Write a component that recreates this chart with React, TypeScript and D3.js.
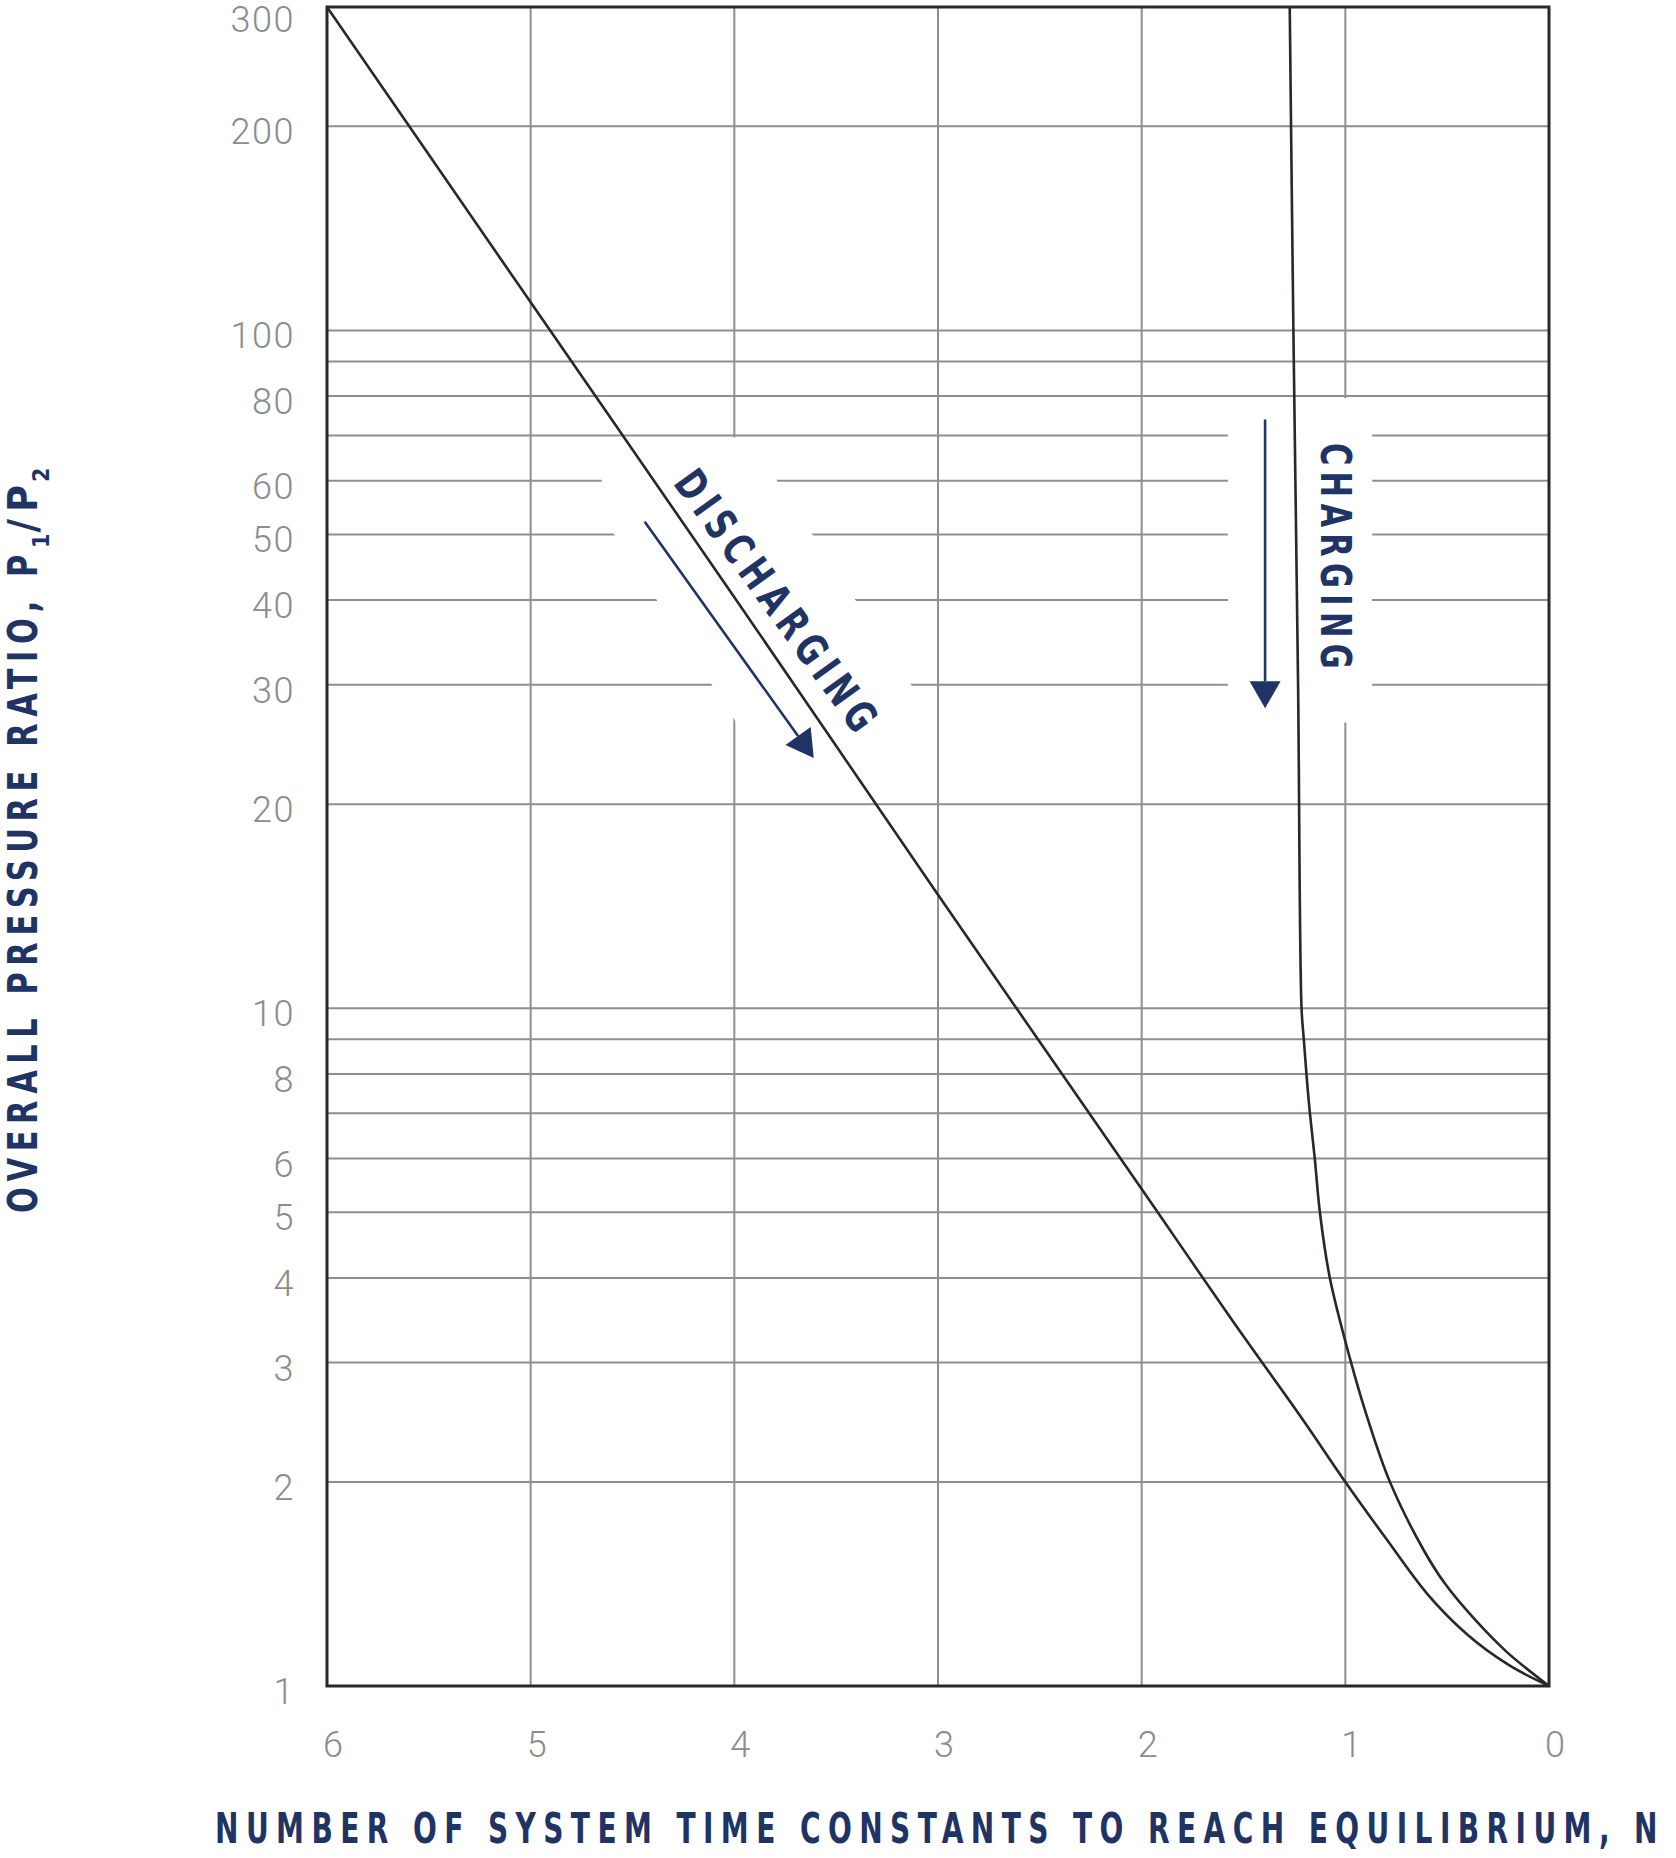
import { useEffect, useRef } from 'react';
import * as d3 from 'd3';

const WIDTH = 1676;
const HEIGHT = 1858;

// X 轴：达到平衡所需的系统时间常数个数（从左 6 到右 0）
const nTicks = [6, 5, 4, 3, 2, 1, 0];
const nGrid = [5, 4, 3, 2, 1];

// Y 轴：总压比 P1/P2（对数刻度）
const pTickLabels = [300, 200, 100, 80, 60, 50, 40, 30, 20, 10, 8, 6, 5, 4, 3, 2, 1];
const pGrid = [200, 100, 90, 80, 70, 60, 50, 40, 30, 20, 10, 9, 8, 7, 6, 5, 4, 3, 2];

// 放气曲线
const dischargingN = [6, 5, 4, 3, 2, 1.5, 1.2, 1, 0.8, 0.6, 0.4, 0.2, 0];
const dischargingP = [300, 110, 40.4, 14.7, 5.41, 3.28, 2.45, 2.0, 1.65, 1.37, 1.19, 1.075, 1];

// 充气曲线
const chargingN = [1.273, 1.255, 1.232, 1.215, 1.204, 1.191, 1.174, 1.15, 1.125, 1.076, 0.977, 0.899, 0.781, 0.617, 0.511, 0.372, 0.208, 0];
const chargingP = [300, 100, 30, 10, 9, 8, 7, 6, 5, 4, 3.04, 2.527, 2, 1.59, 1.416, 1.261, 1.123, 1];

// 标注：箭头起止点 (N, P)
const dischargeArrow: [number, number][] = [[4.44, 52.2], [3.61, 23.4]];
const chargeArrow: [number, number][] = [[1.394, 73.9], [1.394, 27.7]];

// 标注文字锚点
const dischargeLabel = { text: 'DISCHARGING', n: 3.786, p: 39.6 };
const chargeLabel = { text: 'CHARGING', n: 1.046, p: 46 };

// 网格在标注处断开的区域
const dischargeGapN = [4.7, 3.93, 3.01, 3.99, 4.59];
const dischargeGapP = [69.5, 69.5, 26.4, 26.4, 50];
const chargeGapN = [1.577, 0.868, 0.868, 1.577];
const chargeGapP = [79.5, 79.5, 26.4, 26.4];

const NAVY = '#1f3465';
const GRID = '#8d8f91';
const INK = '#25282d';
const TICK = '#8a8c8e';
const BOLD_FONT = "'Liberation Sans Narrow', 'DejaVu Sans Condensed', 'Liberation Sans', sans-serif";
const TICK_FONT = "Roboto, 'Liberation Sans', sans-serif";

export default function App() {
  const svgRef = useRef<SVGSVGElement>(null);

  useEffect(() => {
    if (!svgRef.current) return;
    const svg = d3.select(svgRef.current);
    svg.selectAll('*').remove();

    const plot = { left: 327, right: 1549, top: 7, bottom: 1686 };
    const x = d3.scaleLinear().domain([6, 0]).range([plot.left, plot.right]);
    const y = d3.scaleLog().domain([1, 300]).range([plot.bottom, plot.top]);

    svg.append('rect').attr('width', WIDTH).attr('height', HEIGHT).attr('fill', '#fff');

    // 网格
    const grid = svg.append('g').attr('stroke', GRID).attr('stroke-width', 2);
    grid.selectAll('line.v').data(nGrid).join('line')
      .attr('class', 'v')
      .attr('x1', d => x(d)).attr('x2', d => x(d))
      .attr('y1', plot.top).attr('y2', plot.bottom);
    grid.selectAll('line.h').data(pGrid).join('line')
      .attr('class', 'h')
      .attr('x1', plot.left).attr('x2', plot.right)
      .attr('y1', d => y(d)).attr('y2', d => y(d));

    // 文字处的网格留白
    const gapPath = (ns: number[], ps: number[]) =>
      'M' + ns.map((n, i) => `${x(n)},${y(ps[i])}`).join('L') + 'Z';
    svg.append('path').attr('d', gapPath(dischargeGapN, dischargeGapP)).attr('fill', '#fff');
    svg.append('path').attr('d', gapPath(chargeGapN, chargeGapP)).attr('fill', '#fff');

    // 边框
    svg.append('rect')
      .attr('x', plot.left).attr('y', plot.top)
      .attr('width', plot.right - plot.left).attr('height', plot.bottom - plot.top)
      .attr('fill', 'none').attr('stroke', INK).attr('stroke-width', 3);

    // 曲线
    const dischargeLine = d3.line<number>()
      .x(i => x(dischargingN[i])).y(i => y(dischargingP[i]))
      .curve(d3.curveMonotoneX);
    svg.append('path')
      .attr('d', dischargeLine(d3.range(dischargingN.length)))
      .attr('fill', 'none').attr('stroke', INK).attr('stroke-width', 2.6);

    const chargeLine = d3.line<number>()
      .x(i => x(chargingN[i])).y(i => y(chargingP[i]))
      .curve(d3.curveCatmullRom.alpha(0.5));
    svg.append('path')
      .attr('d', chargeLine(d3.range(chargingN.length)))
      .attr('fill', 'none').attr('stroke', INK).attr('stroke-width', 2.6);

    // 箭头
    const drawArrow = (pts: [number, number][]) => {
      const x0 = x(pts[0][0]), y0 = y(pts[0][1]);
      const x1 = x(pts[1][0]), y1 = y(pts[1][1]);
      const ang = Math.atan2(y1 - y0, x1 - x0);
      const len = 27, half = 15.5;
      const bx = x1 - len * Math.cos(ang), by = y1 - len * Math.sin(ang);
      svg.append('line')
        .attr('x1', x0).attr('y1', y0).attr('x2', bx).attr('y2', by)
        .attr('stroke', NAVY).attr('stroke-width', 2.6);
      svg.append('path')
        .attr('d', `M${x1},${y1}L${bx - half * Math.sin(ang)},${by + half * Math.cos(ang)}L${bx + half * Math.sin(ang)},${by - half * Math.cos(ang)}Z`)
        .attr('fill', NAVY);
    };
    drawArrow(dischargeArrow);
    drawArrow(chargeArrow);

    // 标注文字
    svg.append('text')
      .attr('transform', `translate(${x(dischargeLabel.n)},${y(dischargeLabel.p)}) rotate(54)`)
      .attr('text-anchor', 'middle').attr('dominant-baseline', 'central')
      .attr('font-family', BOLD_FONT).attr('font-weight', 700).attr('font-size', 43)
      .attr('letter-spacing', 8).attr('textLength', 318).attr('lengthAdjust', 'spacingAndGlyphs')
      .attr('fill', NAVY).text(dischargeLabel.text);

    svg.append('text')
      .attr('transform', `translate(${x(chargeLabel.n)},${y(chargeLabel.p)}) rotate(90)`)
      .attr('text-anchor', 'middle').attr('dominant-baseline', 'central')
      .attr('font-family', BOLD_FONT).attr('font-weight', 700).attr('font-size', 43)
      .attr('letter-spacing', 8).attr('textLength', 232).attr('lengthAdjust', 'spacingAndGlyphs')
      .attr('fill', NAVY).text(chargeLabel.text);

    // Y 轴刻度
    svg.append('g').selectAll('text').data(pTickLabels).join('text')
      .attr('x', plot.left - 32)
      .attr('y', d => Math.max(y(d) + 6, plot.top + 13))
      .attr('text-anchor', 'end').attr('dominant-baseline', 'central')
      .attr('font-family', TICK_FONT).attr('font-weight', 300).attr('font-size', 36)
      .attr('letter-spacing', 1.5).attr('fill', TICK)
      .text(d => d);

    // X 轴刻度
    svg.append('g').selectAll('text').data(nTicks).join('text')
      .attr('x', d => x(d) + 6).attr('y', 1757)
      .attr('text-anchor', 'middle')
      .attr('font-family', TICK_FONT).attr('font-weight', 300).attr('font-size', 36)
      .attr('fill', TICK)
      .text(d => d);

    // X 轴标题（横向压缩，模拟窄体字）
    const squeeze = 0.8;
    svg.append('text')
      .attr('transform', `translate(940,1843) scale(${squeeze},1)`)
      .attr('text-anchor', 'middle')
      .attr('font-family', BOLD_FONT).attr('font-weight', 700).attr('font-size', 42)
      .attr('letter-spacing', 10).attr('textLength', 1450 / squeeze).attr('lengthAdjust', 'spacingAndGlyphs')
      .attr('fill', NAVY)
      .text('NUMBER OF SYSTEM TIME CONSTANTS TO REACH EQUILIBRIUM, N');

    // Y 轴标题（带下标）
    const yTitle = svg.append('text')
      .attr('transform', 'translate(37,1213) rotate(-90)')
      .attr('font-family', BOLD_FONT).attr('font-weight', 700).attr('font-size', 41)
      .attr('fill', NAVY);
    yTitle.append('tspan')
      .attr('letter-spacing', 8).attr('textLength', 665).attr('lengthAdjust', 'spacingAndGlyphs')
      .text('OVERALL PRESSURE RATIO, P');
    yTitle.append('tspan').attr('font-size', 23).attr('dy', 12).attr('dx', 0).text('1');
    yTitle.append('tspan').attr('dy', -12).attr('dx', 1).attr('letter-spacing', 7).text('/P');
    yTitle.append('tspan').attr('font-size', 23).attr('dy', 12).attr('dx', -4).text('2');
  }, []);

  return (
    <div style={{ position: 'absolute', left: 0, top: 0 }}>
      <svg ref={svgRef} width={WIDTH} height={HEIGHT} style={{ display: 'block' }} />
    </div>
  );
}
